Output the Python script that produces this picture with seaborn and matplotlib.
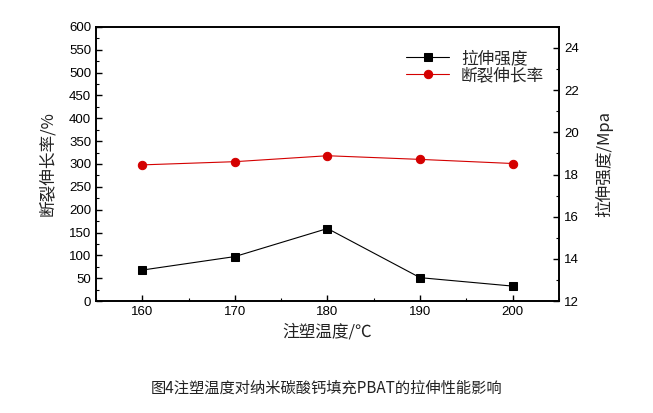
import numpy as np
import pandas as pd
import seaborn as sns
import matplotlib
matplotlib.use("Agg")
import matplotlib.pyplot as plt
from matplotlib.ticker import MultipleLocator

temps = [160, 170, 180, 190, 200]
tensile_strength = [13.47, 14.11, 15.44, 13.11, 12.71]   # MPa, right axis
elongation = [298, 305, 318, 310, 301]                   # %, left axis

x_label = "注塑温度/℃"
y_left_label = "断裂伸长率/%"
y_right_label = "拉伸强度/Mpa"
legend_labels = ["拉伸强度", "断裂伸长率"]
caption = "图4注塑温度对纳米碳酸钙填充PBAT的拉伸性能影响"

sns.set_style("ticks")
plt.rcParams['font.family'] = ['Liberation Sans', 'Noto Sans CJK SC', 'DejaVu Sans']
cjk = ['Noto Sans CJK SC', 'DejaVu Sans']

df = pd.DataFrame({"T": temps, "TS": tensile_strength, "EL": elongation})

fig = plt.figure(figsize=(6.53, 4.13), dpi=100)
ax = fig.add_axes([0.147, 0.271, 0.709, 0.664])
ax2 = ax.twinx()

sns.lineplot(data=df, x="T", y="EL", ax=ax, color="#d40000", marker="o",
             markersize=6, linewidth=0.8, markeredgecolor="#d40000", label=legend_labels[1], legend=False)
sns.lineplot(data=df, x="T", y="TS", ax=ax2, color="black", marker="s",
             markersize=6, linewidth=0.8, markeredgecolor="black", label=legend_labels[0], legend=False)

ax.set_xlim(155, 205)
ax.set_ylim(0, 600)
ax2.set_ylim(12, 25)
ax.set_xticks(temps)
ax.xaxis.set_minor_locator(MultipleLocator(5))
ax.yaxis.set_major_locator(MultipleLocator(50))
ax.yaxis.set_minor_locator(MultipleLocator(25))
ax2.yaxis.set_major_locator(MultipleLocator(2))
ax2.yaxis.set_minor_locator(MultipleLocator(1))

for a in (ax, ax2):
    a.tick_params(which='both', direction='in', labelsize=9.5, colors='black')
    a.tick_params(which='major', length=4, width=1)
    a.tick_params(which='minor', length=2.5, width=0.8)
    for s in a.spines.values():
        s.set_visible(True)
        s.set_linewidth(1.2)
        s.set_color('black')
ax.tick_params(axis='y', which='both', right=False)
ax2.tick_params(axis='y', which='both', left=False)

ax.set_xlabel(x_label, family=cjk, fontsize=12, color='#222222', labelpad=4)
ax.set_ylabel(y_left_label, family=cjk, fontsize=12, color='#222222', labelpad=9)
ax2.set_ylabel(y_right_label, family=cjk, fontsize=12, color='#222222', labelpad=12)

h1, l1 = ax2.get_legend_handles_labels()
h2, l2 = ax.get_legend_handles_labels()
leg = ax.legend(h1 + h2, l1 + l2, loc='upper right', bbox_to_anchor=(1.0, 0.97),
                frameon=False, prop={'family': cjk, 'size': 12}, handlelength=2.6,
                labelspacing=0.0, handletextpad=0.7)

fig.text(0.5, 0.06, caption, ha='center', va='center', family=cjk, fontsize=11, color='#222222')

fig.savefig("out.png", dpi=100)
